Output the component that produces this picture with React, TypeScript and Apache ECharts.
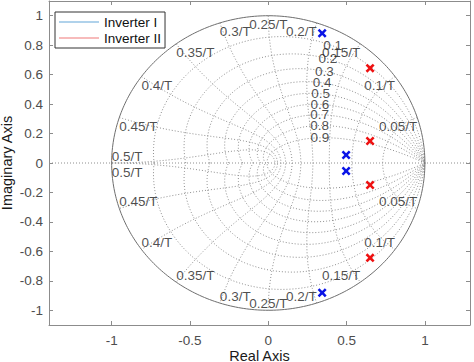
import React, { useEffect, useRef } from 'react';
import * as echarts from 'echarts';

// Damping ratio grid values (zgrid)
const zetaValues = [0.1, 0.2, 0.3, 0.4, 0.5, 0.6, 0.7, 0.8, 0.9];
const zetaLabels = ['0.1', '0.2', '0.3', '0.4', '0.5', '0.6', '0.7', '0.8', '0.9'];
// Natural frequency grid values, in units of pi/T
const wnValues = [0.1, 0.2, 0.3, 0.4, 0.5, 0.6, 0.7, 0.8, 0.9, 1.0];
const wnLabels = ['0.05/T', '0.1/T', '0.15/T', '0.2/T', '0.25/T', '0.3/T', '0.35/T', '0.4/T', '0.45/T', '0.5/T'];
// Position (in units of pi/T) on each damping curve where its label sits
const zetaLabelWn = 0.35;

const xTicks = [-1, -0.5, 0, 0.5, 1];
const yTicks = [-1, -0.8, -0.6, -0.4, -0.2, 0, 0.2, 0.4, 0.6, 0.8, 1];
const xRange = [-1.4, 1.288];
const yRange = [-1.1, 1.1];

// Poles
const inverterI = [
  [0.344, 0.881],
  [0.344, -0.881],
  [0.497, 0.054],
  [0.497, -0.054],
];
const inverterII = [
  [0.65, 0.644],
  [0.65, -0.644],
  [0.65, 0.149],
  [0.65, -0.149],
];

const FONT = '"Liberation Sans", Arial, Helvetica, sans-serif';
const GRID_COLOR = '#8e8e8e';
const AXIS_COLOR = '#8c8c8c';
const CROSS = 'path://M0,2L2,0L5,3L8,0L10,2L7,5L10,8L8,10L5,7L2,10L0,8L3,5Z';

function zetaCurve(zeta: number): number[][] {
  const N = 200;
  const m = zeta / Math.sqrt(1 - zeta * zeta);
  const upper: number[][] = [];
  for (let k = 0; k <= N; k++) {
    const th = (Math.PI * k) / N;
    const r = Math.exp(-m * th);
    upper.push([r * Math.cos(th), r * Math.sin(th)]);
  }
  const pts: number[][] = [];
  for (let k = upper.length - 1; k >= 0; k--) pts.push(upper[k]);
  for (let k = 1; k < upper.length; k++) pts.push([upper[k][0], -upper[k][1]]);
  return pts;
}

function wnCurve(wnFrac: number): number[][] {
  const N = 200;
  const wn = wnFrac * Math.PI;
  const upper: number[][] = [];
  for (let k = 0; k <= N; k++) {
    const th = Math.PI / 2 + (Math.PI / 2) * (k / N);
    const r = Math.exp(wn * Math.cos(th));
    const a = wn * Math.sin(th);
    upper.push([r * Math.cos(a), r * Math.sin(a)]);
  }
  const pts: number[][] = [...upper];
  for (let k = upper.length - 2; k >= 0; k--) pts.push([upper[k][0], -upper[k][1]]);
  return pts;
}

function unitCircle(): number[][] {
  const N = 360;
  const pts: number[][] = [];
  for (let k = 0; k <= N; k++) {
    const a = (2 * Math.PI * k) / N;
    pts.push([Math.cos(a), Math.sin(a)]);
  }
  return pts;
}

export default function App() {
  const ref = useRef<HTMLDivElement>(null);

  useEffect(() => {
    if (!ref.current) return;
    const chart = echarts.init(ref.current, undefined, { renderer: 'svg' });

    const series: any[] = [];
    const gridLine = (data: number[][], solid = false) => ({
      type: 'line',
      data,
      showSymbol: false,
      symbol: 'none',
      silent: true,
      z: 1,
      lineStyle: solid
        ? { color: '#6e6e6e', width: 1, type: 'solid' }
        : { color: GRID_COLOR, width: 1, type: [1, 2] },
    });

    series.push(gridLine([[xRange[0], 0], [xRange[1], 0]]));
    zetaValues.forEach((z) => series.push(gridLine(zetaCurve(z))));
    wnValues.forEach((w) => series.push(gridLine(wnCurve(w))));
    series.push(gridLine(unitCircle(), true));

    // Labels of the grid
    const labelData: any[] = [];
    zetaValues.forEach((z, i) => {
      const m = z / Math.sqrt(1 - z * z);
      const th = zetaLabelWn * Math.PI * Math.sqrt(1 - z * z);
      const r = Math.exp(-m * th);
      labelData.push({
        value: [r * Math.cos(th), r * Math.sin(th)],
        label: { formatter: zetaLabels[i], align: 'center', verticalAlign: 'middle' },
      });
    });
    wnValues.forEach((w, i) => {
      const a = w * Math.PI;
      const x = Math.cos(a);
      const y = Math.sin(a);
      const align = w < 0.5 ? 'right' : w > 0.5 ? 'left' : 'center';
      labelData.push({
        value: [x, y],
        label: { formatter: wnLabels[i], align, verticalAlign: 'top', offset: [0, 2] },
      });
      labelData.push({
        value: [x, -y],
        label: { formatter: wnLabels[i], align, verticalAlign: 'bottom', offset: [0, 0] },
      });
    });
    series.push({
      type: 'scatter',
      data: labelData,
      symbolSize: 1,
      silent: true,
      z: 3,
      itemStyle: { color: 'transparent' },
      label: {
        show: true,
        position: 'inside',
        fontSize: 13.5,
        fontFamily: FONT,
        color: '#1e1e1e',
      },
    });

    series.push({
      name: 'Inverter I',
      type: 'scatter',
      data: inverterI,
      symbol: CROSS,
      symbolSize: 9,
      z: 5,
      itemStyle: { color: '#0a14e6', opacity: 1 },
    });
    series.push({
      name: 'Inverter II',
      type: 'scatter',
      data: inverterII,
      symbol: CROSS,
      symbolSize: 9,
      z: 5,
      itemStyle: { color: '#ee1111', opacity: 1 },
    });

    const axisLine = { show: true, onZero: false, lineStyle: { color: AXIS_COLOR, width: 1 } };
    const tick = (vals: number[]) => ({
      show: true,
      inside: true,
      length: 4,
      customValues: vals,
      lineStyle: { color: AXIS_COLOR },
    });
    const fmt = (v: number) => String(Math.round(v * 100) / 100);

    chart.setOption({
      animation: false,
      backgroundColor: '#ffffff',
      grid: { left: 49, right: 4, top: 1, bottom: 37, containLabel: false, outerBoundsMode: 'none' },
      legend: {
        orient: 'vertical',
        left: 55,
        top: 12,
        itemWidth: 40,
        itemHeight: 1,
        itemGap: 2,
        padding: [3, 4, 3, 4],
        borderColor: '#333333',
        borderWidth: 1,
        borderRadius: 0,
        backgroundColor: '#ffffff',
        selectedMode: false,
        textStyle: { fontSize: 13.5, fontFamily: FONT, color: '#111111' },
        data: [
          { name: 'Inverter I', icon: 'rect', itemStyle: { color: '#62a6d8' } },
          { name: 'Inverter II', icon: 'rect', itemStyle: { color: '#f07878' } },
        ],
      },
      xAxis: [
        {
          type: 'value',
          min: xRange[0],
          max: xRange[1],
          position: 'bottom',
          axisLine,
          axisTick: tick(xTicks),
          axisLabel: { customValues: xTicks, formatter: fmt, fontSize: 13.5, fontFamily: FONT, color: '#4d4d4d', margin: 8 },
          splitLine: { show: false },
          name: 'Real Axis',
          nameLocation: 'middle',
          nameGap: 23,
          nameMoveOverlap: false,
          nameTextStyle: { fontSize: 14.5, fontFamily: FONT, color: '#1a1a1a' },
        },
        {
          type: 'value',
          min: xRange[0],
          max: xRange[1],
          position: 'top',
          axisLine,
          axisTick: tick(xTicks),
          axisLabel: { show: false },
          splitLine: { show: false },
        },
      ],
      yAxis: [
        {
          type: 'value',
          min: yRange[0],
          max: yRange[1],
          position: 'left',
          axisLine,
          axisTick: tick(yTicks),
          axisLabel: { customValues: yTicks, formatter: fmt, fontSize: 13.5, fontFamily: FONT, color: '#4d4d4d', margin: 6 },
          splitLine: { show: false },
          name: 'Imaginary Axis',
          nameLocation: 'middle',
          nameGap: 35,
          nameMoveOverlap: false,
          nameTextStyle: { fontSize: 14.5, fontFamily: FONT, color: '#1a1a1a' },
        },
        {
          type: 'value',
          min: yRange[0],
          max: yRange[1],
          position: 'right',
          axisLine,
          axisTick: tick(yTicks),
          axisLabel: { show: false },
          splitLine: { show: false },
        },
      ],
      series,
    });

    return () => chart.dispose();
  }, []);

  return (
    <div
      ref={ref}
      style={{ position: 'absolute', left: 0, top: 0, width: 474, height: 362, background: '#fff' }}
    />
  );
}
